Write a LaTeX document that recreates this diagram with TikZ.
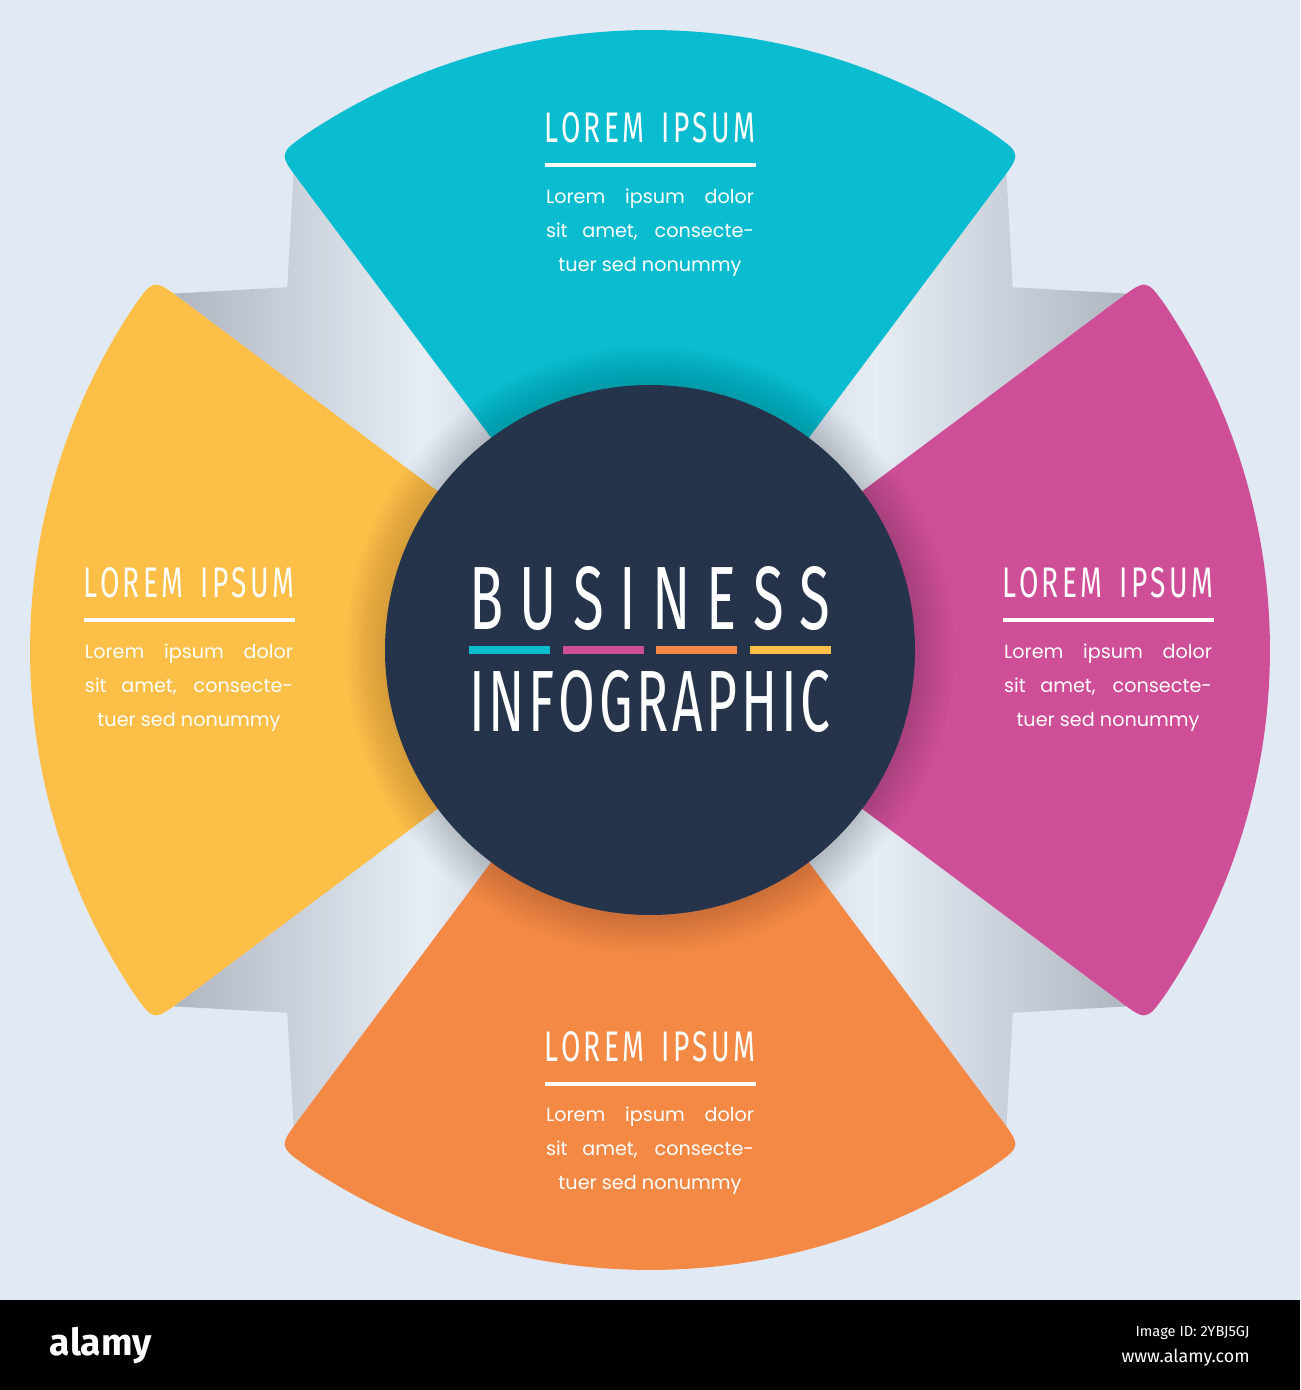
\documentclass[tikz,border=0pt]{standalone}
\usepackage{fontspec}
\usepackage{graphicx}
\setmainfont{Poppins}
\newfontfamily\titlefont{Fira Sans}
\newfontfamily\bodyfont{Poppins}
\usetikzlibrary{positioning}
\definecolor{bgblue}{HTML}{E1EAF4}
\definecolor{petalcyan}{HTML}{0ABCD0}
\definecolor{petalpink}{HTML}{CF4E98}
\definecolor{petalorange}{HTML}{F48945}
\definecolor{petalyellow}{HTML}{FDBF47}
\definecolor{navy}{HTML}{26344B}
\definecolor{folddark}{HTML}{A5ACB6}
\definecolor{foldlight}{HTML}{E6EDF5}
\newcommand{\petal}[2]{\fill[#2] (0,0) -- (#1-36.8:585) .. controls (#1-36.8:620) .. (#1-33.6:620) arc[start angle=#1-33.6, end angle=#1+33.6, radius=620] .. controls (#1+36.8:620) .. (#1+36.8:585) -- cycle;}
\newcommand{\fold}[1]{\begin{scope}
  \clip (0,0) -- (#1-8.2:595) -- (#1:513) -- (#1+8.2:595) -- cycle;
  \shade[rotate=#1-90, left color=folddark, right color=folddark, middle color=foldlight] (-100,0) rectangle (100,640);
\end{scope}}
\newcommand{\bodytext}{\makebox[104pt][s]{Lorem ipsum dolor}\\\makebox[104pt][s]{sit amet, consecte-}\\tuer sed nonummy}
\newcommand{\headtext}{\resizebox{105pt}{15pt}{LOREM\hskip0.6em IPSUM}}
\begin{document}
\begin{tikzpicture}
        [x=0.5pt, y=0.5pt,
         title/.style={text=white, inner sep=0pt, font=\titlefont\addfontfeature{LetterSpace=12}},
         body/.style={text=white, inner sep=0pt, align=center, font=\bodyfont\fontsize{9.6}{17}\selectfont},
         bigword/.style={text=white, inner sep=0pt, font=\titlefont\fontsize{10}{12}\selectfont},
         rule/.style={white, line width=2pt},
         bar/.style={line width=4pt}]
        \useasboundingbox (-650,-740) rectangle (650,650);
        \fill[bgblue] (-650,-650) rectangle (650,650);
        \fill[black] (-650,-740) rectangle (650,-650);

        \fold{45}
        \fold{135}
        \fold{225}
        \fold{315}
        \petal{90}{petalcyan}
        \petal{180}{petalyellow}
        \petal{270}{petalorange}
        \petal{0}{petalpink}

        \foreach \r in {268,271,...,304}
            \fill[black, opacity=0.013] (0,0) circle (\r);
        \node[circle, fill=navy, minimum size=265pt, inner sep=0pt] (hub) at (0,0) {};

        \node[bigword] (wbiz) at (0,51) {\resizebox{180.5pt}{31.5pt}{\hbox spread 20pt{B\hfil U\hfil S\hfil I\hfil N\hfil E\hfil S\hfil S}}};
        \node[bigword] (winfo) at (0,-52) {\resizebox{180.5pt}{30.5pt}{\hbox spread 7pt{I\hfil N\hfil F\hfil O\hfil G\hfil R\hfil A\hfil P\hfil H\hfil I\hfil C}}};
        \draw[bar, petalcyan] (-181,0) -- (-100,0);
        \draw[bar, petalpink] (-87,0) -- (-6,0);
        \draw[bar, petalorange] (6,0) -- (87,0);
        \draw[bar, petalyellow] (100,0) -- (181,0);

        \node[title] (ttop) at (0,522) {\headtext};
        \draw[rule] (ttop.south west) ++(0,-21) -- ++(211,0);
        \node[body] (btop) at (0,417) {\bodytext};

        \node[title] (tleft) at (-461,67) {\headtext};
        \draw[rule] (tleft.south west) ++(0,-21) -- ++(211,0);
        \node[body] (bleft) at (-461,-38) {\bodytext};

        \node[title] (tright) at (458,67) {\headtext};
        \draw[rule] (tright.south west) ++(0,-21) -- ++(211,0);
        \node[body] (bright) at (458,-38) {\bodytext};

        \node[title] (tbottom) at (0,-397) {\headtext};
        \draw[rule] (tbottom.south west) ++(0,-21) -- ++(211,0);
        \node[body] (bbottom) at (0,-501) {\bodytext};

        \node[text=white, inner sep=0pt, font=\titlefont\bfseries] (logo) at (-549,-695) {\resizebox{51pt}{!}{alamy}};
        \node[text=white, inner sep=0pt, anchor=east, font=\titlefont] (imgid) at (600,-683) {\resizebox{57pt}{!}{Image ID: 2YBJ5GJ}};
        \node[text=white, inner sep=0pt, anchor=east, font=\titlefont] (site) at (600,-708) {\resizebox{64pt}{!}{www.alamy.com}};
    \end{tikzpicture}
\end{document}
